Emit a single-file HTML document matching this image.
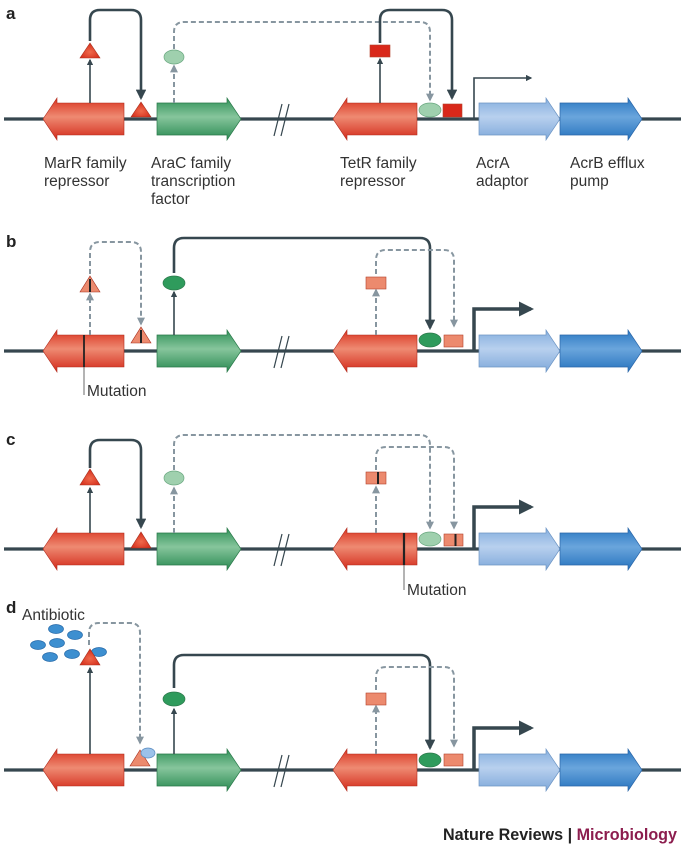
<!DOCTYPE html>
<html><head><meta charset="utf-8"><style>
html,body{margin:0;padding:0;background:#fff;}
svg{display:block;}
text{font-family:"Liberation Sans",sans-serif;fill:#333;}
</style></head><body>
<svg id="s" width="685" height="848" viewBox="0 0 685 848" xmlns="http://www.w3.org/2000/svg">
<defs>
<linearGradient id="gr" x1="0" y1="0" x2="0" y2="1"><stop offset="0" stop-color="#d9331f"/><stop offset="0.45" stop-color="#ee8a72"/><stop offset="1" stop-color="#d32a1a"/></linearGradient>
<linearGradient id="gg" x1="0" y1="0" x2="0" y2="1"><stop offset="0" stop-color="#2f9158"/><stop offset="0.45" stop-color="#86c59c"/><stop offset="1" stop-color="#2a8a52"/></linearGradient>
<linearGradient id="gb1" x1="0" y1="0" x2="0" y2="1"><stop offset="0" stop-color="#84aede"/><stop offset="0.45" stop-color="#b8d0ee"/><stop offset="1" stop-color="#7ea8da"/></linearGradient>
<linearGradient id="gb2" x1="0" y1="0" x2="0" y2="1"><stop offset="0" stop-color="#2a78c2"/><stop offset="0.45" stop-color="#6aa5dc"/><stop offset="1" stop-color="#2673be"/></linearGradient>
<radialGradient id="gtri" cx="0.5" cy="0.6" r="0.6"><stop offset="0" stop-color="#ef6a4c"/><stop offset="1" stop-color="#d42a18"/></radialGradient>
<marker id="ms" viewBox="0 0 10 10" refX="8" refY="5" markerWidth="4" markerHeight="4" orient="auto"><path d="M0,0 L10,5 L0,10 z" fill="#36474f"/></marker>
<marker id="mt" viewBox="0 0 10 10" refX="8" refY="5" markerWidth="4.3" markerHeight="4.3" orient="auto"><path d="M0,0 L10,5 L0,10 z" fill="#36474f"/></marker>
<marker id="md" viewBox="0 0 10 10" refX="8" refY="5" markerWidth="4" markerHeight="4" orient="auto"><path d="M0,0 L10,5 L0,10 z" fill="#8796a0"/></marker>
</defs>
<g id="g"></g>
<text x="6" y="19" font-weight="bold" font-size="17" style="fill:#222">a</text>
<text x="6" y="247" font-weight="bold" font-size="17" style="fill:#222">b</text>
<text x="6" y="445" font-weight="bold" font-size="17" style="fill:#222">c</text>
<text x="6" y="613" font-weight="bold" font-size="17" style="fill:#222">d</text>
<g font-size="15.5">
<text x="44" y="168">MarR family</text><text x="44" y="186">repressor</text>
<text x="151" y="168">AraC family</text><text x="151" y="186">transcription</text><text x="151" y="204">factor</text>
<text x="340" y="168">TetR family</text><text x="340" y="186">repressor</text>
<text x="476" y="168">AcrA</text><text x="476" y="186">adaptor</text>
<text x="570" y="168">AcrB efflux</text><text x="570" y="186">pump</text>
<text x="87" y="396">Mutation</text>
<text x="407" y="595">Mutation</text>
<text x="22" y="620">Antibiotic</text>
</g>
<text x="443" y="840" font-size="16.5" font-weight="bold" style="fill:#222" textLength="234" lengthAdjust="spacingAndGlyphs">Nature Reviews | <tspan style="fill:#8c1d4e">Microbiology</tspan></text>
</svg>
<script>
var G=document.getElementById('g'),NS='http://www.w3.org/2000/svg';
function el(t,a){var e=document.createElementNS(NS,t);for(var k in a)e.setAttribute(k,a[k]);G.appendChild(e);return e;}
function lg(xt,xr,y,f){el('polygon',{points:[xt,y,xt+14,y-21,xt+14,y-16,xr,y-16,xr,y+16,xt+14,y+16,xt+14,y+21].join(' '),fill:f,stroke:'#b02a1c','stroke-width':0.6});}
function rg(xl,xt,y,f,s){el('polygon',{points:[xl,y-16,xt-14,y-16,xt-14,y-21,xt,y,xt-14,y+21,xt-14,y+16,xl,y+16].join(' '),fill:f,stroke:s,'stroke-width':0.7});}
function tri(cx,yt,yb,f,mut){el('polygon',{points:[cx-10,yb,cx+10,yb,cx,yt].join(' '),fill:f,stroke:'#a8301f','stroke-width':0.6});if(mut)el('line',{x1:cx,y1:yt+3,x2:cx,y2:yb,stroke:'#222','stroke-width':2});}
function sq(x,y,w,h,f,mut){el('rect',{x:x,y:y,width:w,height:h,fill:f,stroke:'#b5402a','stroke-width':0.6});if(mut)el('line',{x1:x+w/2+2,y1:y,x2:x+w/2+2,y2:y+h,stroke:'#222','stroke-width':2});}
function ell(cx,cy,rx,ry,f,s){el('ellipse',{cx:cx,cy:cy,rx:rx,ry:ry,fill:f,stroke:s||'#2d7a4c','stroke-width':0.7});}
function up(x,y1,y2,d){el('path',{d:'M'+x+' '+y1+' V'+y2,stroke:d?'#8796a0':'#36474f','stroke-width':d?2:1.6,'stroke-dasharray':d?'5,3':'none',fill:'none','marker-end':d?'url(#md)':'url(#ms)'});}
function loop(x1,ys,yt,x2,ye,d){var r=10;el('path',{d:'M'+x1+' '+ys+' V'+(yt+r)+' Q'+x1+' '+yt+' '+(x1+r)+' '+yt+' H'+(x2-r)+' Q'+x2+' '+yt+' '+x2+' '+(yt+r)+' V'+ye,stroke:d?'#8796a0':'#36474f','stroke-width':d?2:2.6,'stroke-dasharray':d?'5,3':'none',fill:'none','marker-end':d?'url(#md)':'url(#ms)'});}
function base(L,thick){
 el('line',{x1:4,y1:L,x2:681,y2:L,stroke:'#36474f','stroke-width':3.2});
 lg(43,124,L,'url(#gr)');rg(157,241,L,'url(#gg)','#2a7a4a');lg(333,417,L,'url(#gr)');
 rg(479,560,L,'url(#gb1)','#6d95c4');rg(560,642,L,'url(#gb2)','#2a66a8');
 el('line',{x1:274,y1:L+17,x2:282,y2:L-15,stroke:'#36474f','stroke-width':1.2});
 el('line',{x1:281,y1:L+17,x2:289,y2:L-15,stroke:'#36474f','stroke-width':1.2});
 var top=thick?L-42:L-41;
 el('path',{d:'M474 '+L+' V'+top+' H'+(thick?531:531),stroke:'#36474f','stroke-width':thick?3.5:1.6,fill:'none','marker-end':thick?'url(#mt)':'url(#ms)'});
}
var L=119;base(L,false);
up(90,L-16,60,false);tri(90,43,58,'url(#gtri)');loop(90,41,10,141,98,false);tri(141,102,117,'url(#gtri)');
up(174,L-16,66,true);ell(174,57,10,7,'#9fd0ae','#6aa880');loop(174,49,22,430,100,true);ell(430,110,11,7,'#9fd0ae','#6aa880');
up(380,L-16,59,false);sq(370,45,20,12,'#d9281a');loop(380,43,10,452,98,false);sq(443,104,19,13,'#d9281a');
L=351;base(L,true);
el('line',{x1:84,y1:L-16,x2:84,y2:L+16,stroke:'#222','stroke-width':1.8});el('line',{x1:84,y1:L+16,x2:84,y2:395,stroke:'#444','stroke-width':0.8});
up(90,L-16,294,true);tri(90,276,292,'#ec8a6e',true);loop(90,274,242,141,324,true);tri(141,327,343,'#ec8a6e',true);
up(174,L-16,292,false);ell(174,283,11,7,'#2f9b5c');loop(174,273,238,430,328,false);ell(430,340,11,7,'#2f9b5c');
up(376,L-16,290,true);sq(366,277,20,12,'#ec8a6e');loop(376,274,250,454,326,true);sq(444,335,19,12,'#ec8a6e');
L=549;base(L,true);
el('line',{x1:404,y1:L-16,x2:404,y2:L+16,stroke:'#222','stroke-width':2.2});el('line',{x1:404,y1:L+16,x2:404,y2:590,stroke:'#444','stroke-width':0.8});
up(90,L-16,488,false);tri(90,469,485,'url(#gtri)');loop(90,468,440,141,527,false);tri(141,532,548,'url(#gtri)');
up(174,L-16,488,true);ell(174,478,10,7,'#9fd0ae','#6aa880');loop(174,470,435,430,528,true);ell(430,539,11,7,'#9fd0ae','#6aa880');
up(376,L-16,487,true);sq(366,472,20,12,'#ec8a6e',true);loop(376,470,447,454,528,true);sq(444,534,19,12,'#ec8a6e',true);
L=770;base(L,true);
[[56,629],[75,635],[38,645],[57,643],[50,657],[72,654],[99,652]].forEach(function(p){ell(p[0],p[1],7.5,4.5,'#3d8fd0','#2468a8');});
up(90,L-16,668,false);tri(90,649,665,'url(#gtri)');
loop(89,645,623,140,743,true);tri(140,750,766,'#ec8a6e');ell(148,753,7,5,'#9cc2ea','#5a8cc0');
up(174,L-16,709,false);ell(174,699,11,7,'#2f9b5c');loop(174,688,655,430,748,false);ell(430,760,11,7,'#2f9b5c');
up(376,L-16,706,true);sq(366,693,20,12,'#ec8a6e');loop(376,690,667,454,746,true);sq(444,754,19,12,'#ec8a6e');
</script>
</body></html>
